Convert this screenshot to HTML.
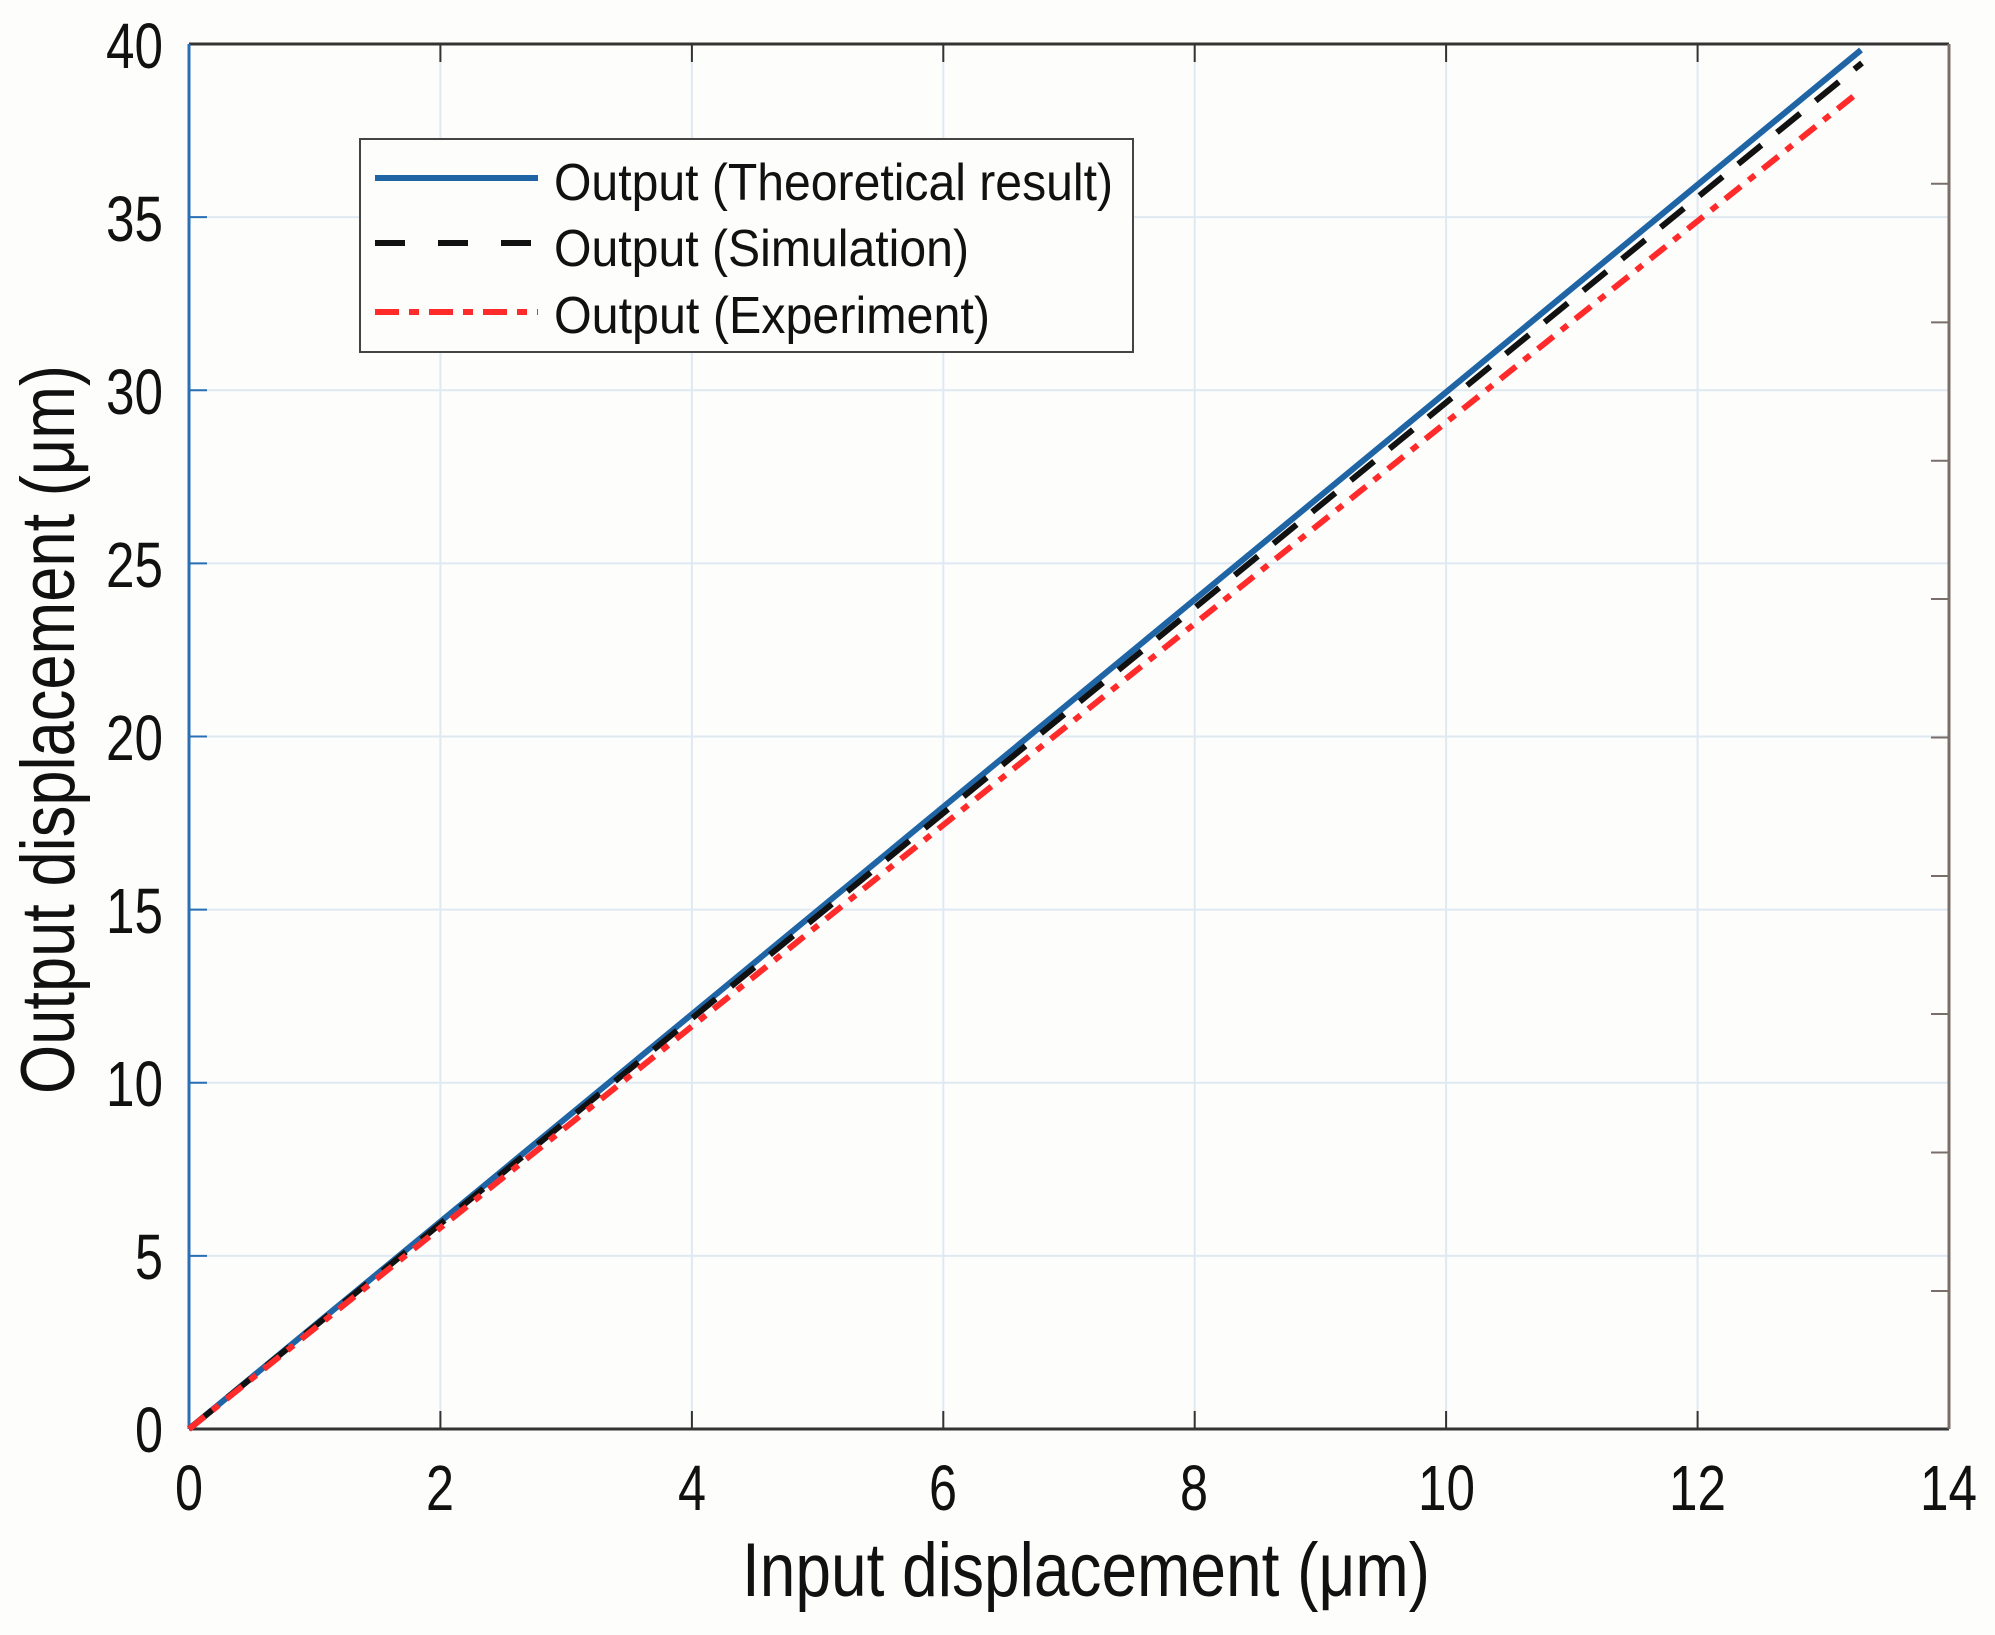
<!DOCTYPE html>
<html><head><meta charset="utf-8"><style>html,body{margin:0;padding:0;background:#fdfdfc}svg{display:block}</style></head>
<body>
<svg width="1995" height="1635" viewBox="0 0 1995 1635" xmlns="http://www.w3.org/2000/svg" font-family="Liberation Sans, Arial, sans-serif">
<rect width="1995" height="1635" fill="#fdfdfc"/>
<g stroke="#dfe9f2" stroke-width="2">
<line x1="440.4" y1="44" x2="440.4" y2="1429"/><line x1="691.9" y1="44" x2="691.9" y2="1429"/><line x1="943.3" y1="44" x2="943.3" y2="1429"/><line x1="1194.7" y1="44" x2="1194.7" y2="1429"/><line x1="1446.1" y1="44" x2="1446.1" y2="1429"/><line x1="1697.6" y1="44" x2="1697.6" y2="1429"/>
<line x1="189" y1="217.1" x2="1949" y2="217.1"/><line x1="189" y1="390.3" x2="1949" y2="390.3"/><line x1="189" y1="563.4" x2="1949" y2="563.4"/><line x1="189" y1="736.5" x2="1949" y2="736.5"/><line x1="189" y1="909.6" x2="1949" y2="909.6"/><line x1="189" y1="1082.8" x2="1949" y2="1082.8"/><line x1="189" y1="1255.9" x2="1949" y2="1255.9"/>
</g>
<g stroke="#333" stroke-width="2">
<line x1="440.4" y1="1429" x2="440.4" y2="1411"/><line x1="691.9" y1="1429" x2="691.9" y2="1411"/><line x1="943.3" y1="1429" x2="943.3" y2="1411"/><line x1="1194.7" y1="1429" x2="1194.7" y2="1411"/><line x1="1446.1" y1="1429" x2="1446.1" y2="1411"/><line x1="1697.6" y1="1429" x2="1697.6" y2="1411"/>
<line x1="440.4" y1="44" x2="440.4" y2="62"/><line x1="691.9" y1="44" x2="691.9" y2="62"/><line x1="943.3" y1="44" x2="943.3" y2="62"/><line x1="1194.7" y1="44" x2="1194.7" y2="62"/><line x1="1446.1" y1="44" x2="1446.1" y2="62"/><line x1="1697.6" y1="44" x2="1697.6" y2="62"/>
</g>
<g stroke="#7a6e6a" stroke-width="2">
<line x1="1949" y1="183.7" x2="1931" y2="183.7"/><line x1="1949" y1="322.4" x2="1931" y2="322.4"/><line x1="1949" y1="460.7" x2="1931" y2="460.7"/><line x1="1949" y1="599" x2="1931" y2="599"/><line x1="1949" y1="737.5" x2="1931" y2="737.5"/><line x1="1949" y1="876" x2="1931" y2="876"/><line x1="1949" y1="1014" x2="1931" y2="1014"/><line x1="1949" y1="1152.5" x2="1931" y2="1152.5"/><line x1="1949" y1="1291" x2="1931" y2="1291"/>
</g>
<g stroke="#2a6fb5" stroke-width="2">
<line x1="189" y1="217.1" x2="207" y2="217.1"/><line x1="189" y1="390.3" x2="207" y2="390.3"/><line x1="189" y1="563.4" x2="207" y2="563.4"/><line x1="189" y1="736.5" x2="207" y2="736.5"/><line x1="189" y1="909.6" x2="207" y2="909.6"/><line x1="189" y1="1082.8" x2="207" y2="1082.8"/><line x1="189" y1="1255.9" x2="207" y2="1255.9"/><line x1="189" y1="44" x2="207" y2="44"/>
</g>
<line x1="189" y1="44" x2="1949" y2="44" stroke="#333" stroke-width="3"/>
<line x1="189" y1="1429" x2="1949" y2="1429" stroke="#333" stroke-width="3"/>
<line x1="1949" y1="44" x2="1949" y2="1429" stroke="#7a6e6a" stroke-width="3"/>
<line x1="189" y1="44" x2="189" y2="1429" stroke="#2a6fb5" stroke-width="3"/>
<line x1="189" y1="1429" x2="1861" y2="50" stroke="#1f65a5" stroke-width="6"/>
<line x1="189" y1="1429" x2="1862" y2="63" stroke="#111" stroke-width="6" stroke-dasharray="30,20"/>
<line x1="189" y1="1429" x2="1855" y2="95" stroke="#ff2a2a" stroke-width="6" stroke-dasharray="20,10,8,10"/>
<rect x="360" y="139" width="773" height="213" fill="#fdfdfc" stroke="#444" stroke-width="2"/>
<line x1="375" y1="178" x2="538" y2="178" stroke="#1f65a5" stroke-width="6"/>
<line x1="375" y1="243" x2="538" y2="243" stroke="#111" stroke-width="6" stroke-dasharray="30,33"/>
<line x1="375" y1="312" x2="538" y2="312" stroke="#ff2a2a" stroke-width="6" stroke-dasharray="24,10,10,10"/>
<g font-size="52" fill="#111">
<text x="554" y="200" textLength="559" lengthAdjust="spacingAndGlyphs">Output (Theoretical result)</text>
<text x="554" y="266" textLength="415" lengthAdjust="spacingAndGlyphs">Output (Simulation)</text>
<text x="554" y="333" textLength="436" lengthAdjust="spacingAndGlyphs">Output (Experiment)</text>
</g>
<g font-size="64" fill="#111">
<text x="163" y="68" text-anchor="end" textLength="57" lengthAdjust="spacingAndGlyphs">40</text>
<text x="163" y="241" text-anchor="end" textLength="57" lengthAdjust="spacingAndGlyphs">35</text>
<text x="163" y="414" text-anchor="end" textLength="57" lengthAdjust="spacingAndGlyphs">30</text>
<text x="163" y="587" text-anchor="end" textLength="57" lengthAdjust="spacingAndGlyphs">25</text>
<text x="163" y="760" text-anchor="end" textLength="57" lengthAdjust="spacingAndGlyphs">20</text>
<text x="163" y="933" text-anchor="end" textLength="57" lengthAdjust="spacingAndGlyphs">15</text>
<text x="163" y="1106" text-anchor="end" textLength="57" lengthAdjust="spacingAndGlyphs">10</text>
<text x="163" y="1279" text-anchor="end" textLength="28" lengthAdjust="spacingAndGlyphs">5</text>
<text x="163" y="1452" text-anchor="end" textLength="28" lengthAdjust="spacingAndGlyphs">0</text>
<text x="175" y="1510" textLength="28" lengthAdjust="spacingAndGlyphs">0</text>
<text x="426" y="1510" textLength="28" lengthAdjust="spacingAndGlyphs">2</text>
<text x="678" y="1510" textLength="28" lengthAdjust="spacingAndGlyphs">4</text>
<text x="929" y="1510" textLength="28" lengthAdjust="spacingAndGlyphs">6</text>
<text x="1180" y="1510" textLength="28" lengthAdjust="spacingAndGlyphs">8</text>
<text x="1418" y="1510" textLength="57" lengthAdjust="spacingAndGlyphs">10</text>
<text x="1669" y="1510" textLength="57" lengthAdjust="spacingAndGlyphs">12</text>
<text x="1920" y="1510" textLength="57" lengthAdjust="spacingAndGlyphs">14</text>
</g>
<g font-size="76" fill="#111">
<text x="742" y="1596" textLength="688" lengthAdjust="spacingAndGlyphs">Input displacement (μm)</text>
<text transform="translate(74,1094) rotate(-90)" x="0" y="0" textLength="729" lengthAdjust="spacingAndGlyphs">Output displacement (μm)</text>
</g>
</svg>
</body></html>
